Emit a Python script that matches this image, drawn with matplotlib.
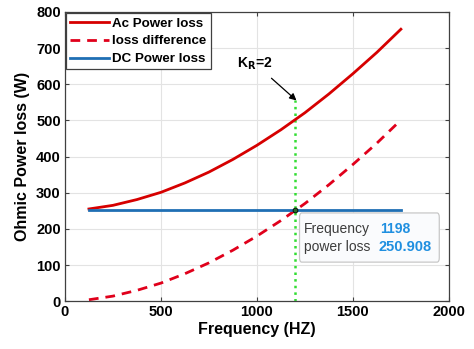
import matplotlib.pyplot as plt
from matplotlib.patches import FancyBboxPatch

plt.rcParams['font.family'] = ['Liberation Sans', 'DejaVu Sans']

# values
freq = [125, 250, 375, 500, 625, 750, 875, 1000, 1125, 1250, 1375, 1500, 1625, 1750]
ac_loss = [255, 265, 281, 301, 327, 357, 392, 431, 474, 521, 573, 629, 688, 752]
loss_diff = [4, 14, 30, 50, 76, 106, 141, 180, 223, 270, 322, 378, 437, 501]
dc_freq = [125, 1750]
dc_loss = [250.908, 250.908]
tip_freq = 1198
tip_loss = 250.908
kr_top = 555

fig = plt.figure(figsize=(4.74, 3.49), dpi=100)
ax = fig.add_axes([0.137, 0.137, 0.81, 0.829])

ax.plot(freq, ac_loss, color='#d60000', lw=2, label='Ac Power loss')
ax.plot(freq, loss_diff, color='#e0001b', lw=2, ls=(0, (3.5, 2.5)), label='loss difference')
ax.plot(dc_freq, dc_loss, color='#1f6fb4', lw=2, label='DC Power loss')
ax.plot([tip_freq, tip_freq], [0, kr_top], color='#33dd33', lw=1.8, ls=':', zorder=1.5)
ax.plot([tip_freq], [tip_loss], 'o', ms=3.5, mfc='#2a6a2a', mec='black', mew=0.6, zorder=5)

ax.annotate('K$_\\mathbf{R}$=2', xy=(tip_freq + 8, kr_top), xytext=(990, 657),
            ha='center', va='center', fontsize=10, fontweight='bold',
            arrowprops=dict(arrowstyle='-|>', color='black', lw=0.9,
                            mutation_scale=10, shrinkA=4, shrinkB=0))

box = FancyBboxPatch((1222, 108), 728, 136, boxstyle='round,pad=0,rounding_size=12',
                     fc='#fafbfd', ec='#c8c8c8', lw=0.9, zorder=6)
ax.add_patch(box)
ax.text(1245, 199, 'Frequency', color='#3c3c3c', fontsize=10, va='center', zorder=7)
ax.text(1640, 199, str(tip_freq), color='#1f8fe0', fontsize=10, fontweight='bold',
        va='center', zorder=7)
ax.text(1245, 150, 'power loss', color='#3c3c3c', fontsize=10, va='center', zorder=7)
ax.text(1635, 150, f'{tip_loss:.3f}', color='#1f8fe0', fontsize=10.5, fontweight='bold',
        va='center', zorder=7)

ax.set_xlim(0, 2000)
ax.set_ylim(0, 800)
ax.set_xticks([0, 500, 1000, 1500, 2000])
ax.set_yticks(range(0, 801, 100))
ax.grid(True, color='#e3e3e3', lw=0.8)
ax.set_axisbelow(True)
ax.tick_params(direction='in', top=True, right=True, length=3, color='#404040',
               labelsize=10.5, pad=3)
for lab in ax.get_xticklabels() + ax.get_yticklabels():
    lab.set_fontweight('bold')
for s in ax.spines.values():
    s.set_color('#404040')
    s.set_linewidth(0.9)

ax.set_xlabel('Frequency (HZ)', fontsize=11.5, fontweight='bold', labelpad=2)
ax.set_ylabel('Ohmic Power loss (W)', fontsize=11.5, fontweight='bold', labelpad=4)

leg = ax.legend(loc='upper left', prop={'weight': 'bold', 'size': 9.6},
                handlelength=2.9, handletextpad=0.25, labelspacing=0.42,
                borderpad=0.3, borderaxespad=0.1, fancybox=False, framealpha=1)
leg.get_frame().set_edgecolor('#404040')
leg.get_frame().set_linewidth(0.9)

fig.savefig('out.png', dpi=100)
